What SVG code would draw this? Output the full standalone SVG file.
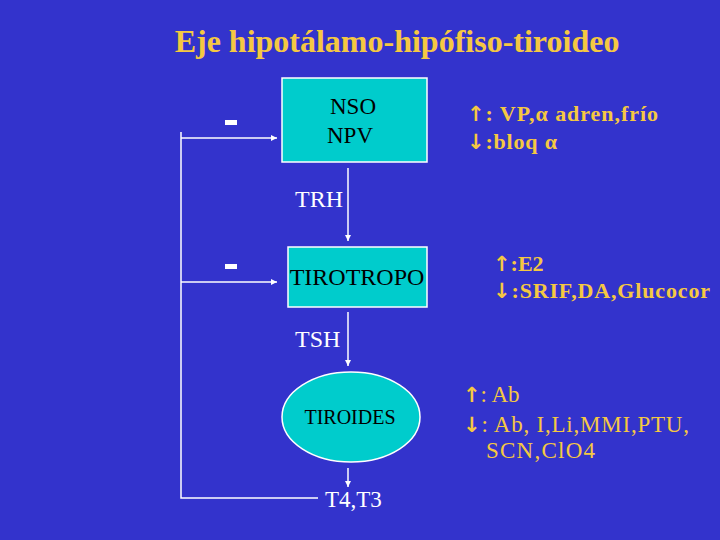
<svg xmlns="http://www.w3.org/2000/svg" width="720" height="540" viewBox="0 0 720 540">
<defs>
<style>
.bg{fill:#3333CC}
.node{fill:#00CCCC;stroke:#FFFFFF;stroke-width:1.5}
.ntext{font-family:"Liberation Serif","Times New Roman",serif;fill:#000000;text-anchor:middle}
.wtext{font-family:"Liberation Serif","Times New Roman",serif;fill:#FFFFFF}
.ytext{font-family:"Liberation Serif","DejaVu Serif",serif;fill:#F5C842;font-size:22px}
.ytext.big{font-size:23px}
.ar{font-family:"DejaVu Sans",sans-serif;font-weight:bold;font-size:21px}
.line{stroke:#FFFFFF;stroke-width:1.5;fill:none}
</style>
<marker id="arr" viewBox="0 0 10 10" refX="10" refY="5" markerWidth="6" markerHeight="6" markerUnits="userSpaceOnUse" orient="auto">
<path d="M0,0 L10,5 L0,10 z" fill="#FFFFFF"/>
</marker>
</defs>
<rect class="bg" x="0" y="0" width="720" height="540"/>
<text x="397" y="52" text-anchor="middle" style="font-family:'Liberation Serif',serif;font-weight:bold;font-size:32px;fill:#F5C842">Eje hipotálamo-hipófiso-tiroideo</text>

<g id="nso">
<rect class="node" x="282" y="78" width="145" height="84"/>
<text class="ntext" x="353" y="114" font-size="23">NSO</text>
<text class="ntext" x="350" y="143" font-size="23">NPV</text>
</g>
<g id="tirotropo">
<rect class="node" x="288" y="247" width="139" height="60"/>
<text class="ntext" x="357" y="285" font-size="24">TIROTROPO</text>
</g>
<g id="tiroides">
<ellipse class="node" cx="351" cy="417" rx="69" ry="45"/>
<text class="ntext" x="350" y="424" font-size="20">TIROIDES</text>
</g>

<g id="connectors">
<line class="line" x1="348" y1="168" x2="348" y2="241" marker-end="url(#arr)"/>
<line class="line" x1="348" y1="312" x2="348" y2="366" marker-end="url(#arr)"/>
<line class="line" x1="348" y1="468" x2="348" y2="487" marker-end="url(#arr)"/>
<polyline class="line" points="318,498 181,498 181,132"/>
<line class="line" x1="181" y1="138" x2="277" y2="138" marker-end="url(#arr)"/>
<line class="line" x1="181" y1="282" x2="277" y2="282" marker-end="url(#arr)"/>
<text class="wtext" x="295" y="207" font-size="24">TRH</text>
<text class="wtext" x="295" y="347" font-size="24">TSH</text>
<text class="wtext" x="325" y="507" font-size="23">T4,T3</text>
<rect x="225" y="120" width="12" height="5" fill="#FFFFFF"/>
<rect x="225" y="264" width="12" height="5" fill="#FFFFFF"/>
</g>

<g id="notes">
<text class="ytext" x="467" y="121" font-weight="bold" textLength="191" lengthAdjust="spacing"><tspan class="ar">↑</tspan>: VP,α adren,frío</text>
<text class="ytext" x="467" y="149" font-weight="bold" textLength="90" lengthAdjust="spacing"><tspan class="ar">↓</tspan>:bloq α</text>
<text class="ytext" x="493" y="271" font-weight="bold"><tspan class="ar">↑</tspan>:E2</text>
<text class="ytext" x="493" y="298" font-weight="bold" textLength="217" lengthAdjust="spacing"><tspan class="ar">↓</tspan>:SRIF,DA,Glucocor</text>
<text class="ytext big" x="463" y="402"><tspan class="ar">↑</tspan>: Ab</text>
<text class="ytext big" x="463" y="432" textLength="226" lengthAdjust="spacing"><tspan class="ar">↓</tspan>: Ab, I,Li,MMI,PTU,</text>
<text class="ytext big" x="486" y="458" textLength="109" lengthAdjust="spacing">SCN,ClO4</text>
</g>
</svg>
